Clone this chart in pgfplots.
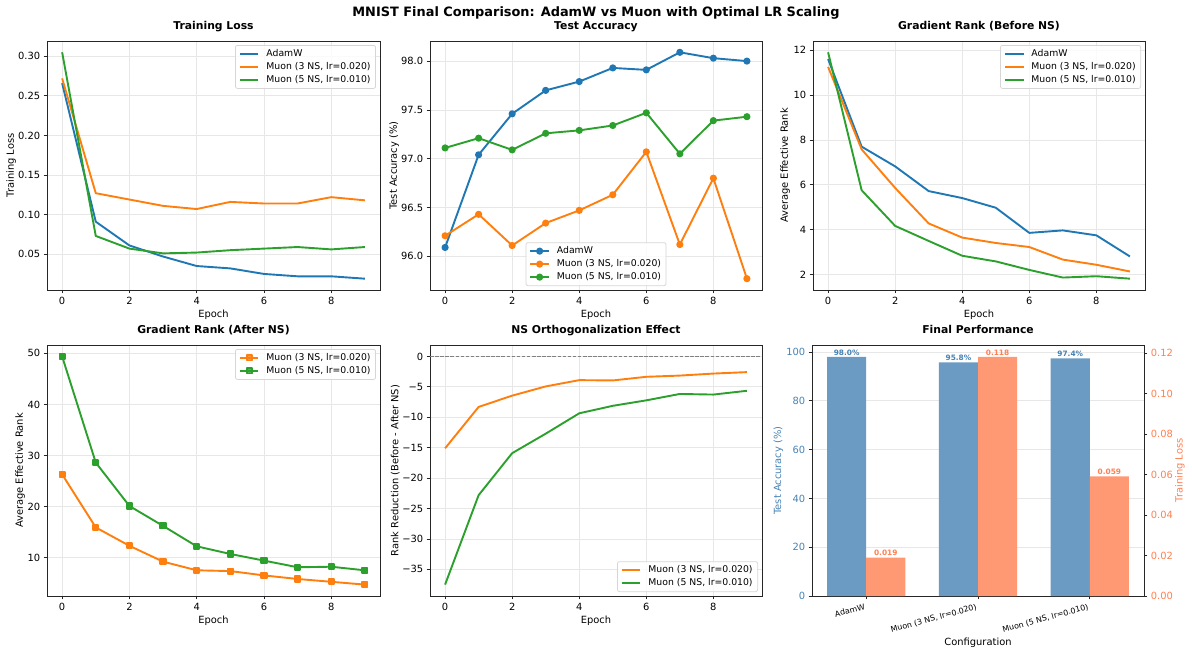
\documentclass[border=0pt]{standalone}
\usepackage{fontspec}
\setmainfont{DejaVu Sans}
\usepackage{pgfplots}
\pgfplotsset{compat=1.18}

\definecolor{tabblue}{HTML}{1F77B4}
\definecolor{taborange}{HTML}{FF7F0E}
\definecolor{tabgreen}{HTML}{2CA02C}
\definecolor{steel}{HTML}{4682B4}
\definecolor{mycoral}{HTML}{FF7F50}
\definecolor{steelbar}{RGB}{107,155,195}
\definecolor{coralbar}{RGB}{255,153,115}
\definecolor{gridc}{RGB}{231,231,231}
\definecolor{legedge}{RGB}{214,214,214}

\newcommand\fTick{\fontsize{9.9bp}{11bp}\selectfont}
\newcommand\fLeg{\fontsize{9.3bp}{11bp}\selectfont}
\newcommand\fLab{\fontsize{9.9bp}{11bp}\selectfont}
\newcommand\fTitle{\fontsize{10.8bp}{12bp}\selectfont\bfseries}
\newcommand\fSup{\fontsize{12.9bp}{15bp}\selectfont\bfseries}
\newcommand\fBar{\fontsize{7.4bp}{8bp}\selectfont\bfseries}
\newcommand\fCat{\fontsize{7.9bp}{9bp}\selectfont}

\pgfplotsset{
  panel/.style={
    scale only axis,
    anchor=north west,
    axis line style={line width=0.8bp, black!85},
    tick align=outside,
    xtick pos=left, ytick pos=left,
    major tick length=3.3bp,
    every tick/.style={line width=0.75bp, black!85},
    tick label style={font=\fTick},
    /pgf/number format/assume math mode=true,
    label style={font=\fLab},
    title style={font=\fTitle, at={(axis description cs:0.5,1)}, anchor=base, yshift=6bp},
    scaled ticks=false,
    legend cell align=left,
    legend style={font=\fLeg, draw=legedge, line width=0.75bp, rounded corners=2bp,
      fill=white, fill opacity=0.8, text opacity=1, draw opacity=1,
      inner xsep=3.5bp, inner ysep=2bp, column sep=5.5bp,
      nodes={inner xsep=1.5bp, inner ysep=1.75bp, text height=7.2bp, text depth=2.3bp}},
    legend image code/.code={\draw[mark repeat=2, mark phase=2, #1]
      plot coordinates {(0bp,0bp) (9.3bp,0bp) (18.6bp,0bp)};},
  },
  epoch/.style={
    xmin=-0.45, xmax=9.45, xtick={0,2,4,6,8},
    grid=major, major grid style={line width=0.75bp, gridc},
    xlabel={Epoch},
    xlabel style={at={(axis description cs:0.5,0)}, anchor=base, yshift=-27bp},
  },
  ser/.style={line width=1.9bp, line join=round, #1},
}

\begin{document}
\begin{tikzpicture}
\useasboundingbox (0,0) rectangle (1192bp,-655bp);
\node[font=\fSup, anchor=base] at (596bp,-16.7bp)
  {MNIST Final Comparison: AdamW vs Muon with Optimal LR Scaling};

% ---------- Training loss ----------
\begin{axis}[panel, epoch, at={(47bp,-41bp)}, width=333bp, height=249bp,
  title={Training Loss}, ylabel={Training Loss},
  ylabel style={at={(axis description cs:-0.108,0.5)}, anchor=center},
  ymin=0.0047, ymax=0.3193, ytick={0.05,0.1,0.15,0.2,0.25,0.3},
  yticklabel style={/pgf/number format/.cd, fixed, fixed zerofill, precision=2},
  legend style={at={(axis description cs:1,1)}, anchor=north east, xshift=-4bp, yshift=-4bp}]
\addplot[ser=tabblue] coordinates {(0,0.266) (1,0.091) (2,0.061) (3,0.047) (4,0.035) (5,0.032) (6,0.025) (7,0.022) (8,0.022) (9,0.019)};
\addlegendentry{AdamW}
\addplot[ser=taborange] coordinates {(0,0.272) (1,0.127) (2,0.119) (3,0.111) (4,0.107) (5,0.116) (6,0.114) (7,0.114) (8,0.122) (9,0.118)};
\addlegendentry{Muon (3 NS, lr=0.020)}
\addplot[ser=tabgreen] coordinates {(0,0.305) (1,0.073) (2,0.057) (3,0.051) (4,0.052) (5,0.055) (6,0.057) (7,0.059) (8,0.056) (9,0.059)};
\addlegendentry{Muon (5 NS, lr=0.010)}
\end{axis}

% ---------- Test accuracy ----------
\begin{axis}[panel, epoch, at={(430bp,-41bp)}, width=332bp, height=249bp,
  title={Test Accuracy}, ylabel={Test Accuracy (\%)},
  ylabel style={at={(axis description cs:-0.108,0.5)}, anchor=center},
  ymin=95.654, ymax=98.206, ytick={96,96.5,97,97.5,98},
  yticklabel style={/pgf/number format/.cd, fixed, fixed zerofill, precision=1},
  legend style={at={(axis description cs:0.5,0)}, anchor=south, yshift=4bp}]
\addplot[ser=tabblue, mark=*, mark size=2.6bp, mark options={solid}] coordinates {(0,96.09) (1,97.04) (2,97.46) (3,97.70) (4,97.79) (5,97.93) (6,97.91) (7,98.09) (8,98.03) (9,98.00)};
\addlegendentry{AdamW}
\addplot[ser=taborange, mark=*, mark size=2.6bp, mark options={solid}] coordinates {(0,96.21) (1,96.43) (2,96.11) (3,96.34) (4,96.47) (5,96.63) (6,97.07) (7,96.12) (8,96.80) (9,95.77)};
\addlegendentry{Muon (3 NS, lr=0.020)}
\addplot[ser=tabgreen, mark=*, mark size=2.6bp, mark options={solid}] coordinates {(0,97.11) (1,97.21) (2,97.09) (3,97.26) (4,97.29) (5,97.34) (6,97.47) (7,97.05) (8,97.39) (9,97.43)};
\addlegendentry{Muon (5 NS, lr=0.010)}
\end{axis}

% ---------- Gradient rank before NS ----------
\begin{axis}[panel, epoch, at={(813bp,-41bp)}, width=332bp, height=249bp,
  title={Gradient Rank (Before NS)}, ylabel={Average Effective Rank},
  ylabel style={at={(axis description cs:-0.084,0.5)}, anchor=center},
  ymin=1.316, ymax=12.404, ytick={2,4,6,8,10,12},
  legend style={at={(axis description cs:1,1)}, anchor=north east, xshift=-4bp, yshift=-4bp}]
\addplot[ser=tabblue] coordinates {(0,11.60) (1,7.70) (2,6.82) (3,5.72) (4,5.41) (5,4.98) (6,3.86) (7,3.97) (8,3.75) (9,2.81)};
\addlegendentry{AdamW}
\addplot[ser=taborange] coordinates {(0,11.25) (1,7.58) (2,5.86) (3,4.28) (4,3.65) (5,3.41) (6,3.23) (7,2.67) (8,2.44) (9,2.14)};
\addlegendentry{Muon (3 NS, lr=0.020)}
\addplot[ser=tabgreen] coordinates {(0,11.90) (1,5.76) (2,4.17) (3,3.50) (4,2.84) (5,2.59) (6,2.21) (7,1.87) (8,1.93) (9,1.82)};
\addlegendentry{Muon (5 NS, lr=0.010)}
\end{axis}

% ---------- Gradient rank after NS ----------
\begin{axis}[panel, epoch, at={(47bp,-345bp)}, width=333bp, height=251bp,
  title={Gradient Rank (After NS)}, ylabel={Average Effective Rank},
  ylabel style={at={(axis description cs:-0.081,0.5)}, anchor=center},
  ymin=2.465, ymax=51.635, ytick={10,20,30,40,50},
  legend style={at={(axis description cs:1,1)}, anchor=north east, xshift=-4bp, yshift=-4bp}]
\addplot[ser=taborange, mark=square*, mark size=2.6bp, mark options={solid}] coordinates {(0,26.3) (1,15.9) (2,12.3) (3,9.2) (4,7.5) (5,7.35) (6,6.5) (7,5.8) (8,5.25) (9,4.7)};
\addlegendentry{Muon (3 NS, lr=0.020)}
\addplot[ser=tabgreen, mark=square*, mark size=2.6bp, mark options={solid}] coordinates {(0,49.4) (1,28.6) (2,20.1) (3,16.2) (4,12.2) (5,10.7) (6,9.4) (7,8.1) (8,8.2) (9,7.5)};
\addlegendentry{Muon (5 NS, lr=0.010)}
\end{axis}

% ---------- NS orthogonalization effect ----------
\begin{axis}[panel, epoch, at={(430bp,-345bp)}, width=332bp, height=251bp,
  title={NS Orthogonalization Effect}, ylabel={Rank Reduction (Before - After NS)},
  ylabel style={at={(axis description cs:-0.105,0.5)}, anchor=center},
  ymin=-39.375, ymax=1.875, ytick={-35,-30,-25,-20,-15,-10,-5,0},
  yticklabels={−35,−30,−25,−20,−15,−10,−5,0},
  legend style={at={(axis description cs:1,0)}, anchor=south east, xshift=-4bp, yshift=4bp}]
\addplot[forget plot, line width=0.9bp, black!50, dash pattern=on 3.5bp off 1.6bp] coordinates {(-0.45,0) (9.45,0)};
\addplot[ser=taborange] coordinates {(0,-15.1) (1,-8.3) (2,-6.45) (3,-4.93) (4,-3.9) (5,-3.95) (6,-3.35) (7,-3.15) (8,-2.82) (9,-2.58)};
\addlegendentry{Muon (3 NS, lr=0.020)}
\addplot[ser=tabgreen] coordinates {(0,-37.5) (1,-22.8) (2,-15.9) (3,-12.7) (4,-9.35) (5,-8.12) (6,-7.22) (7,-6.17) (8,-6.27) (9,-5.65)};
\addlegendentry{Muon (5 NS, lr=0.010)}
\end{axis}

% ---------- Final performance: accuracy bars ----------
% one x unit = 332bp / 2.97, so a bar offset of 0.175 is 19.56bp
\begin{axis}[panel, at={(812bp,-345bp)}, width=332bp, height=251bp,
  title={Final Performance},
  xmin=-0.485, xmax=2.485, xtick={0,1,2},
  xticklabels={AdamW,{Muon (3 NS, lr=0.020)},{Muon (5 NS, lr=0.010)}},
  xticklabel style={font=\fCat, rotate=15, anchor=north east},
  xlabel={Configuration},
  xlabel style={at={(axis description cs:0.5,0)}, anchor=base, yshift=-49.5bp},
  ymin=0, ymax=102.9, ytick={0,20,40,60,80,100},
  ymajorgrids, major grid style={line width=0.75bp, gridc},
  yticklabel style={color=steel},
  ylabel={Test Accuracy (\%)},
  ylabel style={at={(axis description cs:-0.101,0.5)}, anchor=center, color=steel}]
\addplot[ybar, bar width=0.35, bar shift=-0.175, fill=steelbar, draw=none,
  point meta=y, nodes near coords={\pgfmathprintnumber[fixed,fixed zerofill,precision=1]{\pgfplotspointmeta}\%},
  every node near coord/.append style={font=\fBar, color=steel, anchor=base, inner sep=0pt, xshift=-19.56bp, yshift=1.8bp}]
  coordinates {(0,98.0) (1,95.8) (2,97.4)};
\end{axis}

% ---------- Final performance: loss bars ----------
\begin{axis}[panel, at={(812bp,-345bp)}, width=332bp, height=251bp,
  xmin=-0.485, xmax=2.485, hide x axis,
  axis y line*=right, ytick pos=right,
  ymin=0, ymax=0.1239, ytick={0,0.02,0.04,0.06,0.08,0.1,0.12},
  yticklabel style={color=mycoral, /pgf/number format/.cd, fixed, fixed zerofill, precision=2},
  ylabel={Training Loss},
  ylabel style={at={(axis description cs:1.108,0.5)}, anchor=center, color=mycoral}]
\addplot[ybar, bar width=0.35, bar shift=0.175, fill=coralbar, draw=none,
  point meta=y, nodes near coords={\pgfmathprintnumber[fixed,fixed zerofill,precision=3]{\pgfplotspointmeta}},
  every node near coord/.append style={font=\fBar, color=mycoral, anchor=base, inner sep=0pt, xshift=19.56bp, yshift=1.8bp}]
  coordinates {(0,0.019) (1,0.118) (2,0.059)};
\end{axis}
\end{tikzpicture}
\end{document}
